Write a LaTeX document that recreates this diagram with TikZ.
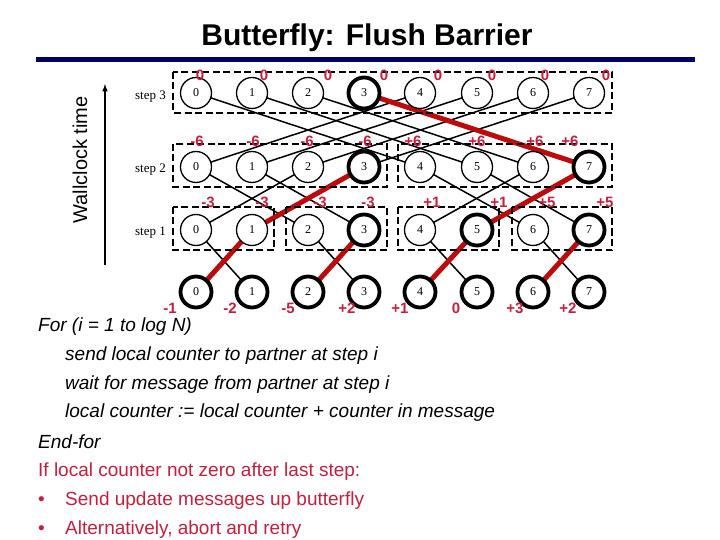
\documentclass[tikz,border=0pt]{standalone}
\usepackage{fontspec}
\setmainfont{Liberation Serif}
\newfontfamily\arial{Liberation Sans}
\definecolor{navy}{RGB}{0,0,102}
\definecolor{lred}{RGB}{200,30,60}
\definecolor{ered}{RGB}{190,10,10}
\pgfdeclarelayer{bg}
\pgfsetlayers{bg,main}
\begin{document}
\begin{tikzpicture}[x=1pt,y=-1pt,
  pn/.style={circle,draw,fill=white,line width=1.3pt,minimum size=31pt,inner sep=0pt,font=\fontsize{12}{12}\selectfont},
  pthick/.style={pn,line width=3.8pt},
  grp/.style={draw,dash pattern=on 7pt off 3.5pt,line width=1.6pt},
  edge/.style={line width=1.5pt},
  redge/.style={ered,line width=5pt},
  lab/.style={lred,font=\arial\bfseries\fontsize{15}{15}\selectfont,inner sep=0pt},
  steplab/.style={font=\fontsize{13}{13}\selectfont,anchor=east,inner sep=0pt},
  code/.style={anchor=west,font=\arial\itshape\fontsize{19}{19}\selectfont,inner sep=0pt},
  rcode/.style={anchor=west,lred,font=\arial\fontsize{19}{19}\selectfont,inner sep=0pt}]
\useasboundingbox (0,0) rectangle (720,540);
\node[font=\arial\bfseries\fontsize{30}{30}\selectfont] (title) at (367,38) {Butterfly: Flush Barrier};
\draw[navy,line width=5pt] (36,60) -- (695,60);
\node[rotate=90,font=\arial\fontsize{20}{20}\selectfont] (wc) at (80,160) {Wallclock time};
\coordinate (wa) at (105,265);
\coordinate (wb) at (105,84);
\draw[-latex,line width=1.5pt] (wa) -- (wb);
% boxes
\draw[grp] (173,72) rectangle (612,113);
\draw[grp] (173,144) rectangle (387,187);
\draw[grp] (398,144) rectangle (612,187);
\draw[grp] (173,207) rectangle (274,250);
\draw[grp] (286,207) rectangle (387,250);
\draw[grp] (398,207) rectangle (499,250);
\draw[grp] (512,207) rectangle (612,250);
\node[steplab] (s3) at (166,97) {step 3};
\node[steplab] (s2) at (166,170) {step 2};
\node[steplab] (s1) at (166,233) {step 1};
% nodes
\foreach \i/\x in {0/196,1/252,2/308,3/364,4/420,5/477,6/533,7/589}{
  \node[pthick] (b\i) at (\x,292) {\i};
}
\foreach \i/\x in {0/196,1/252,2/308,4/420,6/533}{
  \node[pn] (a\i) at (\x,230) {\i};
}
\node[pthick] (a3) at (364,230) {3};
\node[pthick] (a5) at (477,230) {5};
\node[pthick] (a7) at (589,230) {7};
\foreach \i/\x in {0/196,1/252,2/308,4/420,5/477,6/533}{
  \node[pn] (c\i) at (\x,167) {\i};
}
\node[pthick] (c3) at (364,167) {3};
\node[pthick] (c7) at (589,167) {7};
\foreach \i/\x in {0/196,1/252,2/308,4/420,5/477,6/533,7/589}{
  \node[pn] (d\i) at (\x,93) {\i};
}
\node[pthick] (d3) at (364,93) {3};
\begin{pgfonlayer}{bg}
% edges level 0-1
\foreach \l/\u in {1/0,3/2,5/4,7/6}{ \draw[edge] (b\l.center) -- (a\u.center); }
\foreach \l/\u in {0/1,2/3,4/5,6/7}{ \draw[redge] (b\l.center) -- (a\u.center); }
% level 1-2
\foreach \l/\u in {0/2,2/0,3/1,4/6,6/4,7/5}{ \draw[edge] (a\l.center) -- (c\u.center); }
\foreach \l/\u in {1/3,5/7}{ \draw[redge] (a\l.center) -- (c\u.center); }
% level 2-3
\foreach \l/\u in {0/4,1/5,2/6,3/7,4/0,5/1,6/2}{ \draw[edge] (c\l.center) -- (d\u.center); }
\draw[redge] (c7.center) -- (d3.center);
\end{pgfonlayer}
% labels
\foreach \x/\t [count=\k] in {200/0,264/0,328/0,384/0,438/0,492/0,545/0,606/0}{
  \node[lab] (l3\k) at (\x,75) {\t};
}
\foreach \x/\t [count=\k] in {197/-6,253/-6,307/-6,365/-6,413/+6,477/+6,535/+6,570/+6}{
  \node[lab] (l2\k) at (\x,141) {\t};
}
\foreach \x/\t [count=\k] in {208/-3,262/-3,320/-3,368/-3,432/+1,499/+1,547/+5,605/+5}{
  \node[lab] (l1\k) at (\x,202) {\t};
}
\foreach \x/\t [count=\k] in {170/-1,230/-2,288/-5,347/+2,400/+1,456/0,515/+3,568/+2}{
  \node[lab] (l0\k) at (\x,308) {\t};
}
% code
\node[code] (t1) at (38,327) {For (i = 1 to log N)};
\node[code] (t2) at (65,356) {send local counter to partner at step i};
\node[code] (t3) at (65,385) {wait for message from partner at step i};
\node[code] (t4) at (65,413) {local counter := local counter + counter in message};
\node[code] (t5) at (38,442) {End-for};
\node[rcode] (t6) at (38,472) {If local counter not zero after last step:};
\node[rcode] (t7b) at (38,501) {•};
\node[rcode] (t7) at (65,501) {Send update messages up butterfly};
\node[rcode] (t8b) at (38,530) {•};
\node[rcode] (t8) at (65,530) {Alternatively, abort and retry};
\end{tikzpicture}
\end{document}
